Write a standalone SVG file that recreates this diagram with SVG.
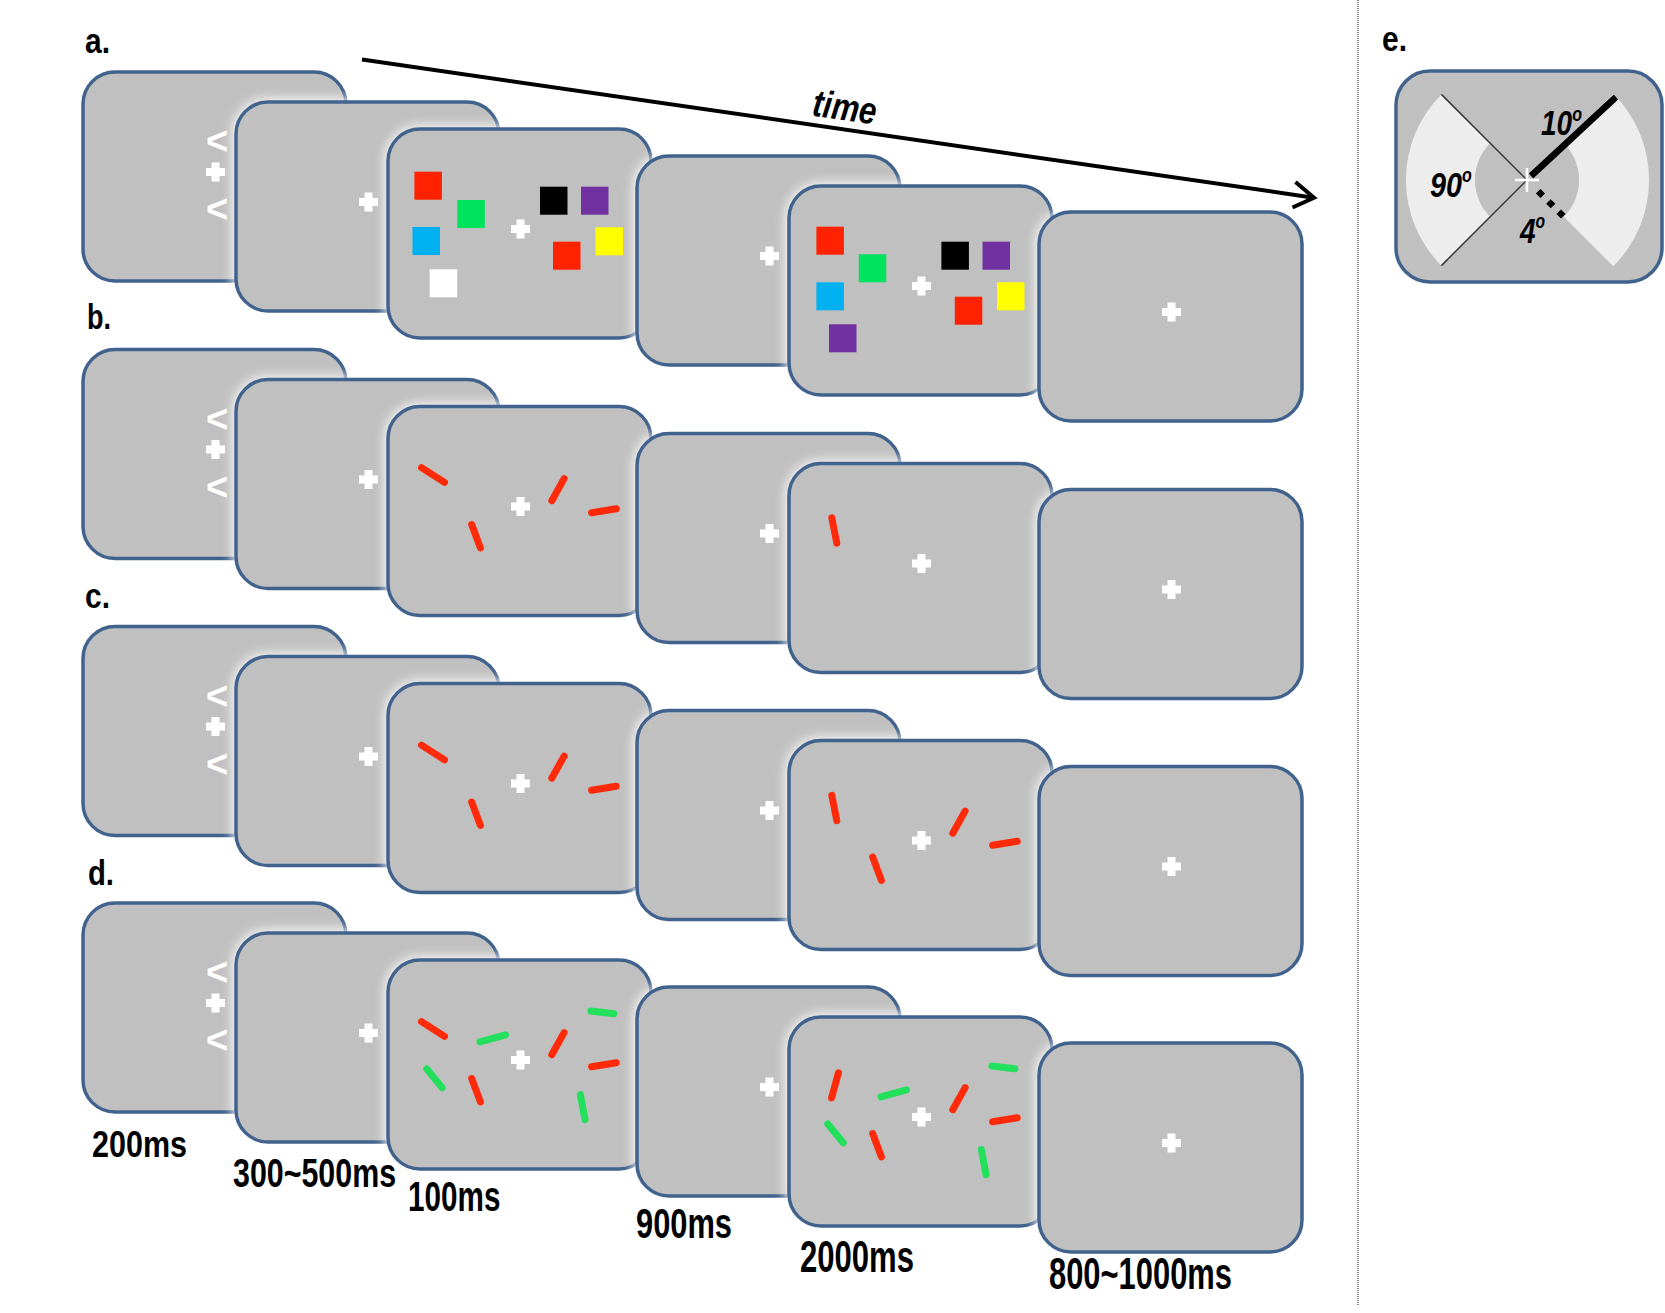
<svg xmlns="http://www.w3.org/2000/svg" xmlns:xlink="http://www.w3.org/1999/xlink" width="1665" height="1313" viewBox="0 0 1665 1313">
<style>
.fr{fill:#c0c0c0;stroke:#41628d;stroke-width:3.5}
.fx{fill:#fff}
.bar{stroke-width:7;stroke-linecap:round;fill:none}
.red{stroke:#ff2a0a}
.grn{stroke:#22e05c}
.lbl{font-family:"Liberation Sans",Arial,sans-serif;font-weight:bold;fill:#000}
.chev{font-family:"Liberation Sans",Arial,sans-serif;font-weight:bold;fill:#fff;font-size:38px;text-anchor:middle}
.deg{font-family:"Liberation Sans",Arial,sans-serif;font-weight:bold;font-style:italic;fill:#000}
</style>
<defs>
<filter id="glow" x="-15%" y="-15%" width="130%" height="130%"><feGaussianBlur stdDeviation="6"/></filter>
<rect id="halo" x="-3" y="-3" width="269" height="215" rx="35" fill="#fff" filter="url(#glow)"/>
<rect id="frame" class="fr" width="263" height="209" rx="32"/>
<path id="fx" class="fx" d="M-4,-9.5h8v5.5h5.5v8h-5.5v5.5h-8v-5.5h-5.5v-8h5.5z"/>
<g id="cue">
<text class="chev" x="134" y="82">&lt;</text>
<text class="chev" x="134" y="150">&lt;</text>
</g>
<g id="reds" class="bar red">
<line x1="471.7" y1="524.5" x2="480.4" y2="547.9"/>
<line x1="564.1" y1="478.6" x2="551.8" y2="500.7"/>
<line x1="591.6" y1="512.8" x2="616.2" y2="508.8"/>
</g>
<line id="r1" class="bar red" x1="421.5" y1="467.6" x2="444.5" y2="482.4"/>
<line id="r1v" class="bar red" x1="831.8" y1="517.9" x2="836.8" y2="543.1"/>
<g id="greens" class="bar grn">
<line x1="480" y1="1041.9" x2="505.5" y2="1034.8"/>
<line x1="590.9" y1="1011" x2="613.9" y2="1013.7"/>
<line x1="426.8" y1="1069" x2="442.2" y2="1087.7"/>
<line x1="580.4" y1="1094.6" x2="585" y2="1119.7"/>
</g>
</defs>
<rect width="1665" height="1313" fill="#fff"/>

<!-- row a -->
<g id="a1"><use href="#halo" x="83" y="72"/><use href="#frame" x="83" y="72"/><use href="#cue" x="83" y="72"/><use href="#fx" x="215.5" y="172"/></g>
<g id="a2"><use href="#halo" x="236" y="102"/><use href="#frame" x="236" y="102"/><use href="#fx" x="368.5" y="202"/></g>
<g id="a3"><use href="#halo" x="388" y="129"/><use href="#frame" x="388" y="129"/><use href="#fx" x="520.5" y="229"/>
<rect x="414.4" y="171.7" width="27.5" height="28" fill="#ff2200"/>
<rect x="457.3" y="200" width="27.5" height="28" fill="#00e35e"/>
<rect x="412.5" y="227" width="27.5" height="28" fill="#00b0f0"/>
<rect x="429.7" y="269.3" width="27.5" height="28" fill="#ffffff"/>
<rect x="540" y="186.7" width="27.5" height="28" fill="#000000"/>
<rect x="581" y="186.7" width="27.5" height="28" fill="#7030a0"/>
<rect x="595.5" y="227.3" width="27.5" height="28" fill="#ffff00"/>
<rect x="553" y="241.7" width="27.5" height="28" fill="#ff2200"/>
</g>
<g id="a4"><use href="#halo" x="637" y="156"/><use href="#frame" x="637" y="156"/><use href="#fx" x="769.5" y="256"/></g>
<g id="a5"><use href="#halo" x="789" y="186"/><use href="#frame" x="789" y="186"/><use href="#fx" x="921.5" y="286"/>
<rect x="816.4" y="226.7" width="27.5" height="28" fill="#ff2200"/>
<rect x="858.8" y="254.3" width="27.5" height="28" fill="#00e35e"/>
<rect x="816.4" y="282.3" width="27.5" height="28" fill="#00b0f0"/>
<rect x="829" y="324.3" width="27.5" height="28" fill="#7030a0"/>
<rect x="941.4" y="241.7" width="27.5" height="28" fill="#000000"/>
<rect x="982.5" y="241.7" width="27.5" height="28" fill="#7030a0"/>
<rect x="997" y="282.3" width="27.5" height="28" fill="#ffff00"/>
<rect x="954.8" y="296.7" width="27.5" height="28" fill="#ff2200"/>
</g>
<g id="a6"><use href="#halo" x="1039" y="212"/><use href="#frame" x="1039" y="212"/><use href="#fx" x="1171.5" y="312"/></g>

<!-- row b -->
<g id="b1"><use href="#halo" x="83" y="349.5"/><use href="#frame" x="83" y="349.5"/><use href="#cue" x="83" y="349.5"/><use href="#fx" x="215.5" y="449.5"/></g>
<g id="b2"><use href="#halo" x="236" y="379.5"/><use href="#frame" x="236" y="379.5"/><use href="#fx" x="368.5" y="479.5"/></g>
<g id="b3"><use href="#halo" x="388" y="406.5"/><use href="#frame" x="388" y="406.5"/><use href="#fx" x="520.5" y="506.5"/><use href="#reds"/><use href="#r1"/></g>
<g id="b4"><use href="#halo" x="637" y="433.5"/><use href="#frame" x="637" y="433.5"/><use href="#fx" x="769.5" y="533.5"/></g>
<g id="b5"><use href="#halo" x="789" y="463.5"/><use href="#frame" x="789" y="463.5"/><use href="#fx" x="921.5" y="563.5"/><use href="#r1v"/></g>
<g id="b6"><use href="#halo" x="1039" y="489.5"/><use href="#frame" x="1039" y="489.5"/><use href="#fx" x="1171.5" y="589.5"/></g>

<!-- row c -->
<g id="c1"><use href="#halo" x="83" y="626.5"/><use href="#frame" x="83" y="626.5"/><use href="#cue" x="83" y="626.5"/><use href="#fx" x="215.5" y="726.5"/></g>
<g id="c2"><use href="#halo" x="236" y="656.5"/><use href="#frame" x="236" y="656.5"/><use href="#fx" x="368.5" y="756.5"/></g>
<g id="c3"><use href="#halo" x="388" y="683.5"/><use href="#frame" x="388" y="683.5"/><use href="#fx" x="520.5" y="783.5"/><use href="#reds" y="277.5"/><use href="#r1" y="277.5"/></g>
<g id="c4"><use href="#halo" x="637" y="710.5"/><use href="#frame" x="637" y="710.5"/><use href="#fx" x="769.5" y="810.5"/></g>
<g id="c5"><use href="#halo" x="789" y="740.5"/><use href="#frame" x="789" y="740.5"/><use href="#fx" x="921.5" y="840.5"/><use href="#reds" x="401" y="332.5"/><use href="#r1v" y="277.5"/></g>
<g id="c6"><use href="#halo" x="1039" y="766.5"/><use href="#frame" x="1039" y="766.5"/><use href="#fx" x="1171.5" y="866.5"/></g>

<!-- row d -->
<g id="d1"><use href="#halo" x="83" y="903"/><use href="#frame" x="83" y="903"/><use href="#cue" x="83" y="903"/><use href="#fx" x="215.5" y="1003"/></g>
<g id="d2"><use href="#halo" x="236" y="933"/><use href="#frame" x="236" y="933"/><use href="#fx" x="368.5" y="1033"/></g>
<g id="d3"><use href="#halo" x="388" y="960"/><use href="#frame" x="388" y="960"/><use href="#fx" x="520.5" y="1060"/><use href="#reds" y="554"/><use href="#r1" y="554"/><use href="#greens"/></g>
<g id="d4"><use href="#halo" x="637" y="987"/><use href="#frame" x="637" y="987"/><use href="#fx" x="769.5" y="1087"/></g>
<g id="d5"><use href="#halo" x="789" y="1017"/><use href="#frame" x="789" y="1017"/><use href="#fx" x="921.5" y="1117"/><use href="#reds" x="401" y="609"/><line class="bar red" x1="838.4" y1="1072.9" x2="831.6" y2="1097.8"/><use href="#greens" x="401" y="55"/></g>
<g id="d6"><use href="#halo" x="1039" y="1043"/><use href="#frame" x="1039" y="1043"/><use href="#fx" x="1171.5" y="1143"/></g>

<!-- panel e -->
<g id="e">
<rect class="fr" x="1396" y="71" width="266" height="211" rx="34"/>
<path d="M1441.4,94.4 A121,121 0 0 0 1441.4,265.6 L1490.2,216.8 A52,52 0 0 1 1490.2,143.2 Z" fill="#ededed"/>
<path d="M1613.3,93.7 A122,122 0 0 1 1613.3,266.3 L1563.8,216.8 A52,52 0 0 0 1563.8,143.2 Z" fill="#ededed"/>
<polyline points="1441.4,94.4 1527,180 1441.4,265.6" fill="none" stroke="#3a3a3a" stroke-width="1.5"/>
<line x1="1531" y1="176" x2="1616" y2="97" stroke="#000" stroke-width="6.5"/>
<line x1="1538.2" y1="191.2" x2="1564" y2="217" stroke="#000" stroke-width="6.5" stroke-dasharray="6.5 8"/>
<path d="M1515,180h24M1527,168v24" stroke="#fff" stroke-width="2.5" fill="none"/>
<text class="deg" font-size="35" transform="translate(1541,135) scale(0.8,1)">10<tspan font-size="20" dy="-14">o</tspan></text>
<text class="deg" font-size="36" transform="translate(1430,197) scale(0.8,1)">90<tspan font-size="20" dy="-15">o</tspan></text>
<text class="deg" font-size="36" transform="translate(1520,243) scale(0.78,1)">4<tspan font-size="20" dy="-15">o</tspan></text>
</g>

<!-- connectors -->
<g id="connectors">
<line x1="362" y1="59.5" x2="1312" y2="197.4" stroke="#000" stroke-width="4"/>
<polyline points="1295.5,182 1314,197.7 1292.5,207.5" fill="none" stroke="#000" stroke-width="4"/>
<text class="lbl" font-style="italic" font-size="38" text-anchor="middle" textLength="64" lengthAdjust="spacingAndGlyphs" transform="translate(843,120) rotate(8.2)">time</text>
</g>

<line id="divider" x1="1358" y1="0" x2="1358" y2="1305" stroke="#8a8a8a" stroke-width="2" stroke-dasharray="1 1"/>

<!-- labels -->
<g id="labels">
<text class="lbl" x="85" y="53" font-size="35" textLength="25" lengthAdjust="spacingAndGlyphs">a.</text>
<text class="lbl" x="87" y="329" font-size="35" textLength="24" lengthAdjust="spacingAndGlyphs">b.</text>
<text class="lbl" x="85" y="608" font-size="35" textLength="25" lengthAdjust="spacingAndGlyphs">c.</text>
<text class="lbl" x="88" y="885" font-size="35" textLength="26" lengthAdjust="spacingAndGlyphs">d.</text>
<text class="lbl" x="1382" y="51" font-size="35" textLength="25" lengthAdjust="spacingAndGlyphs">e.</text>
<text class="lbl" x="92" y="1157" font-size="36" textLength="95" lengthAdjust="spacingAndGlyphs">200ms</text>
<text class="lbl" font-size="40" transform="translate(233,1187) scale(0.76,1)">300~500ms</text>
<text class="lbl" font-size="43" transform="translate(408,1211) scale(0.69,1)">100ms</text>
<text class="lbl" x="636" y="1238" font-size="43" textLength="96" lengthAdjust="spacingAndGlyphs">900ms</text>
<text class="lbl" x="800" y="1272" font-size="44" textLength="114" lengthAdjust="spacingAndGlyphs">2000ms</text>
<text class="lbl" x="1049" y="1289" font-size="44" textLength="183" lengthAdjust="spacingAndGlyphs">800~1000ms</text>
</g>
</svg>
